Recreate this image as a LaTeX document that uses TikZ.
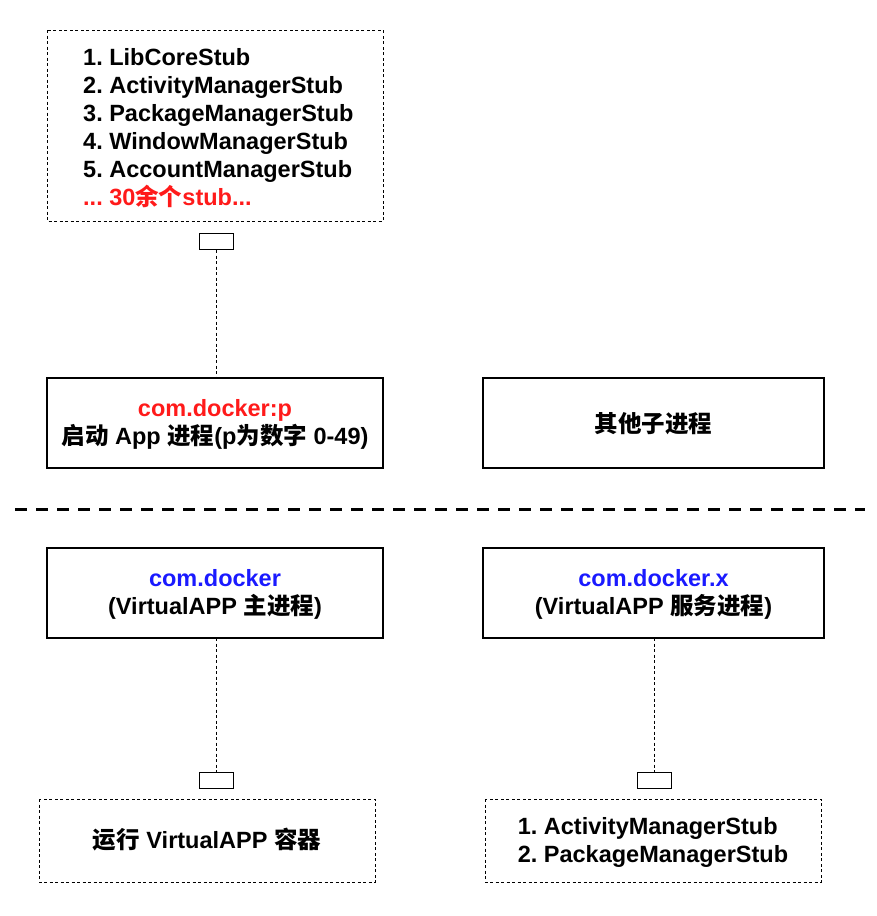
\documentclass[tikz,border=0pt]{standalone}
\usepackage{fontspec}
\setmainfont{Liberation Sans}
\newfontfamily\cjk{Noto Sans CJK SC Bold}
\newcommand\zh[1]{{\cjk #1}}
\definecolor{myred}{HTML}{FF1A1A}
\definecolor{myblue}{HTML}{1A1AFF}
\begin{document}
\frenchspacing
\begin{tikzpicture}[x=1pt,y=-1pt,
  solid box/.style={draw,line width=2.2pt},
  dash box/.style={draw,line width=1pt,dash pattern=on 3pt off 2.5pt},
  link/.style={line width=1pt,dash pattern=on 3pt off 2.5pt},
  port/.style={draw,line width=1pt,minimum width=34pt,minimum height=16pt,inner sep=0pt},
  txt/.style={font=\fontsize{23.5}{28}\selectfont\bfseries,align=center}]
\useasboundingbox (0,0) rectangle (876,916);
% top list
\draw[dash box] (47,30) rectangle (383,221);
\node[txt,align=left,anchor=north west,inner sep=0pt] (list) at (83,48) {1. LibCoreStub\\2. ActivityManagerStub\\3. PackageManagerStub\\4. WindowManagerStub\\5. AccountManagerStub\\\textcolor{myred}{... 30\zh{余个}stub...}};
\node[port] (p1) at (216.5,241.5) {};
\draw[solid box] (47,378) rectangle (383,468);
\node[txt] (b1) at (215,424) {\textcolor{myred}{com.docker:p}\\\zh{启动} App \zh{进程}(p\zh{为数字} 0-49)};
\draw[link] (p1.south) -- (216.5,378);
\draw[solid box] (483,378) rectangle (824,468);
\node[txt] (b2) at (653.5,424) {\zh{其他子进程}};
% separator
\coordinate (s1) at (15,509); \coordinate (s2) at (865,509);
\draw[line width=3pt,dash pattern=on 12pt off 9pt] (s1) -- (s2);
\draw[solid box] (47,548) rectangle (383,638);
\node[txt] (b3) at (215,594) {\textcolor{myblue}{com.docker}\\(VirtualAPP \zh{主进程})};
\draw[solid box] (483,548) rectangle (824,638);
\node[txt] (b4) at (653.5,594) {\textcolor{myblue}{com.docker.x}\\(VirtualAPP \zh{服务进程})};
\node[port] (p2) at (216,780) {};
\node[port] (p3) at (654.5,780) {};
\draw[link] (216,638) -- (p2.north);
\draw[link] (654.5,638) -- (p3.north);
\draw[dash box] (39,799) rectangle (375,882);
\node[txt] (b5) at (207,840) {\zh{运行} VirtualAPP \zh{容器}};
\draw[dash box] (485,799) rectangle (821,882);
\node[txt,align=left] (b6) at (653,842) {1. ActivityManagerStub\\2. PackageManagerStub};
\end{tikzpicture}
\end{document}
